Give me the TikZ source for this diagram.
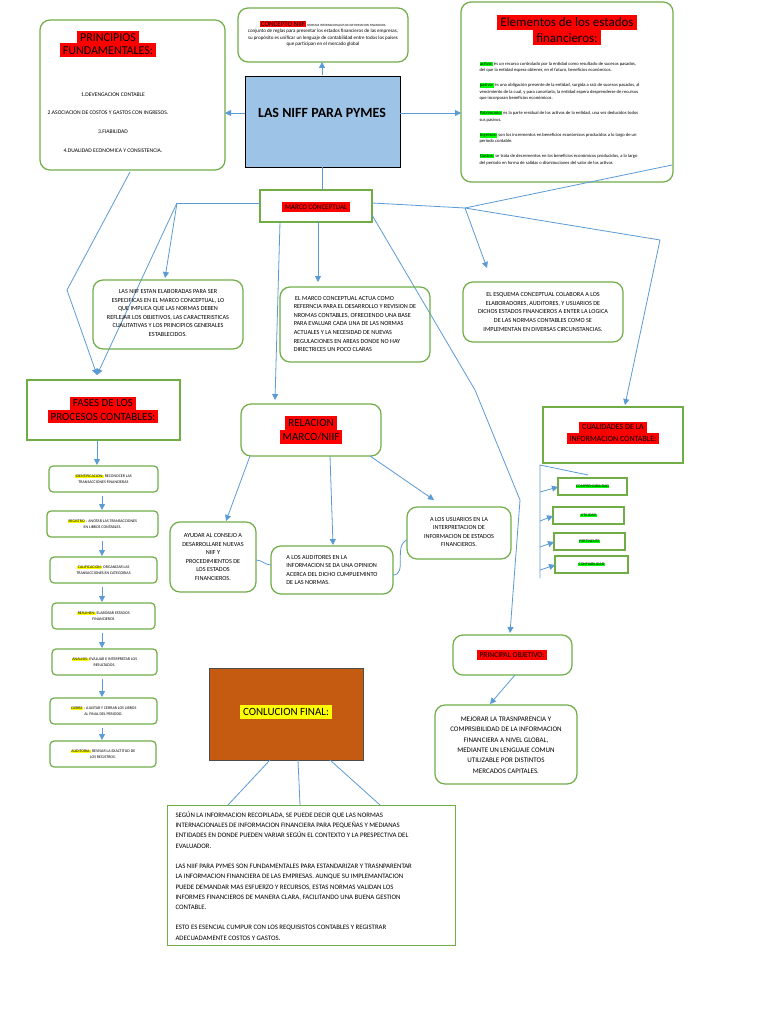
\documentclass[tikz,border=0pt]{standalone}
\usepackage{fontspec}
\setmainfont{Carlito}
\usetikzlibrary{arrows.meta}
\definecolor{gb}{HTML}{70AD47}
\definecolor{ab}{HTML}{5B9BD5}
\definecolor{lb}{HTML}{9DC3E6}
\definecolor{br}{HTML}{C55A11}
\definecolor{hy}{HTML}{FFFF00}
\definecolor{hg}{HTML}{00FF00}
\newcommand{\rd}[1]{\colorbox{red}{#1}}
\newcommand{\yl}[1]{{\setlength{\fboxsep}{0.5pt}\colorbox{hy}{#1}}}
\newcommand{\gr}[1]{{\setlength{\fboxsep}{0.5pt}\colorbox{hg}{#1}}}
\begin{document}
\begin{tikzpicture}[x=1pt,y=-1pt,
 rb/.style={draw=gb,line width=1.2pt,rounded corners=10pt},
 sb/.style={draw=gb,line width=1.2pt},
 arr/.style={draw=ab,line width=0.8pt,-{Triangle[length=6pt,width=6pt]}},
 ln/.style={draw=ab,line width=0.8pt},
 tx/.style={align=center,font=\fontsize{6.2}{8.6}\selectfont},
 fs/.style={align=center,font=\fontsize{4}{5.5}\selectfont}]
\useasboundingbox[fill=white] (0,0) rectangle (768,1024);
% top boxes
\draw[rb] (238,8) rectangle (408,62);
\node[align=center,font=\fontsize{5}{6.5}\selectfont] (con) at (323,34) {{\setlength{\fboxsep}{0.5pt}\colorbox{red}{\fontsize{7}{8}\selectfont CONCEPTO NIIF}}{\fontsize{3.2}{4}\selectfont: NORMAS INTERNACIONALES DE INFORMACION FINANCIERA}\\ conjunto de reglas para presentar los estados financieros de las empresas,\\ su propósito es unificar un lenguaje de contabilidad entre todos los países\\ que participan en el mercado global};
\coordinate (conb) at (322,62);
\draw[rb] (40,20) rectangle (225,170);
\node[align=center,font=\fontsize{12}{13}\selectfont] at (108,44) {\rd{PRINCIPIOS}\\[-2pt]\rd{FUNDAMENTALES:}};
\node[tx,font=\fontsize{5.6}{7}\selectfont] at (113,95) {1.DEVENGACION CONTABLE};
\node[tx,font=\fontsize{5.6}{7}\selectfont] at (108,113) {2.ASOCIACION DE COSTOS Y GASTOS CON INGRESOS.};
\node[tx,font=\fontsize{5.6}{7}\selectfont] at (113,132) {3.FIABILIDAD};
\node[tx,font=\fontsize{5.6}{7}\selectfont] at (113,151) {4.DUALIDAD ECONOMICA Y CONSISTENCIA.};
\coordinate (prr) at (225,113);
\draw[black,fill=lb] (245,76) rectangle (400,167);
\node[font=\bfseries\fontsize{14}{16}\selectfont] (main) at (322,113) {LAS NIFF PARA PYMES};
\draw[rb] (461,2) rectangle (673,182);
\node[align=center,font=\fontsize{13}{14}\selectfont] at (567,30) {\rd{Elementos de los estados}\\[-1pt]\rd{financieros:}};
\node[align=left,font=\fontsize{4.6}{6.3}\selectfont,anchor=north west] at (476,58) {\gr{activo:} es un recurso controlado por la entidad como resultado de sucesos pasados,\\ del que la entidad espera obtener, en el futuro, beneficios económicos.\\[9pt]
\gr{pasivo:} es una obligación presente de la entidad, surgida a raíz de sucesos pasados, al\\ vencimiento de la cual, y para cancelarla, la entidad espera desprenderse de recursos\\ que incorporan beneficios económicos.\\[9pt]
\gr{Patrimonio:} es la parte residual de los activos de la entidad, una vez deducidos todos\\ sus pasivos.\\[9pt]
\gr{Ingresos:} son los incrementos en beneficios económicos producidos a lo largo de un\\ periodo contable.\\[9pt]
\gr{Gastos:} se trata de decrementos en los beneficios económicos producidos, a lo largo\\ del periodo en forma de salidas o disminuciones del valor de los activos};
\draw[arr] (322,75) -- (conb);
\draw[arr] (245,113) -- (prr);
\draw[arr] (400,113) -- (461,113);
% marco
\draw[sb] (260,190) rectangle (372,222);
\node[font=\fontsize{7}{8}\selectfont] (mc) at (316,207) {\rd{MARCO CONCEPTUAL}};
\draw[ln] (322,167) -- (322,190);
\draw[ln] (260,203) -- (177,203);
\draw[ln] (372,203) -- (465,208);
\draw[ln] (130,172) -- (67,290);
\draw[arr] (177,203) -- (97,375);
\draw[arr] (67,290) -- (97,375);
\draw[arr] (177,203) -- (165,278);
\draw[arr] (318,222) -- (318,282);
\draw[arr] (465,208) -- (487,268);
\draw[arr] (465,208) -- (660,240) -- (625,405);
\draw[arr] (280,222) -- (275,400);
\draw[ln] (372,215) -- (475,390) -- (520,500);
\draw[arr] (520,500) -- (510,633);
\draw[ln] (465,208) -- (672,165);
% three boxes
\draw[rb] (93,280) rectangle (243,349);
\node[tx] at (168,313) {LAS NIIF ESTAN ELABORADAS PARA SER\\ESPECIFICAS EN EL MARCO CONCEPTUAL, LO\\QUE IMPLICA QUE LAS NORMAS DEBEN\\REFLEJAR LOS OBJETIVOS, LAS CARACTERISTICAS\\CUALITATIVAS Y LOS PRINCIPIOS GENERALES\\ESTABLECIDOS.};
\draw[rb] (280,287) rectangle (430,362);
\node[tx,align=left] at (355,324) {\ EL MARCO CONCEPTUAL ACTUA COMO\\REFERNCIA PARA EL DESARROLLO Y REVISION DE\\NROMAS CONTABLES, OFRECIENDO UNA BASE\\PARA EVALUAR CADA UNA DE LAS NORMAS\\ACTUALES Y LA NECESIDAD DE NUEVAS\\REGULACIONES EN AREAS DONDE NO HAY\\DIRECTRICES UN POCO CLARAS};
\draw[rb] (463,282) rectangle (623,342);
\node[tx] at (543,312) {EL ESQUEMA CONCEPTUAL COLABORA A LOS\\ELABORADORES, AUDITORES, Y USUARIOS DE\\DICHOS ESTADOS FINANCIEROS A ENTER LA LOGICA\\DE LAS NORMAS CONTABLES COMO SE\\IMPLEMENTAN EN DIVERSAS CIRCUNSTANCIAS.};
% fases
\draw[sb] (27,380) rectangle (180,440);
\node[align=center,font=\fontsize{11}{12.5}\selectfont] at (103,410) {\rd{FASES DE LOS}\\[-1pt]\rd{PROCESOS CONTABLES:}};
\foreach \i/\a/\b/\c/\t in {1/49/466/158/{\yl{IDENTIFICACION:} RECONOCER LAS\\TRANSACCIONES FINANCIERAS},2/47/511/158/{\yl{REGISTRO} : ANOTAR LAS TRANSACCIONES\\EN LIBROS CONTABLES.},3/50/557/157/{\yl{CALIFICACION:} ORGANIZAR LAS\\TRANSACCIONES EN CATEGORIAS},4/52/603/155/{\yl{RESUMEN:} ELABORAR ESTADOS\\FINANCIEROS},5/52/649/157/{\yl{ANALISIS:} EVALUAR E INTERPRETAR LOS\\RESULTADOS.},6/50/698/157/{\yl{CIERRE} : AJUSTAR Y CERRAR LOS LIBROS\\AL FINAL DEL PERIODO.},7/50/741/156/{\yl{AUDITORIA:} REVISAR LA EXACTITUD DE\\LOS REGISTROS.}}{
 \draw[rb,rounded corners=4pt] (\a,\b) rectangle (\c,\b+26);
 \node[fs] (f\i) at ({(\a+\c)/2},\b+13) {\t};
}
\draw[arr] (97,440) -- (97,465);
\foreach \b/\e in {492/510,537/556,583/602,629/648,675/697,724/740}{\draw[arr] (102,\b+4) -- (102,\e);}
% relacion
\draw[rb] (241,404) rectangle (381,456);
\node[align=center,font=\fontsize{11}{13}\selectfont] (rel) at (311,430) {\rd{RELACION}\\[-1pt]\rd{MARCO/NIIF}};
\draw[arr] (250,456) -- (226,521);
\draw[arr] (330,456) -- (333,545);
\draw[arr] (370,456) -- (434,500);
\draw[rb] (170,522) rectangle (256,592);
\node[tx] at (213,557) {AYUDAR AL CONSEJO A\\DESARROLLARE NUEVAS\\NIIF Y\\PROCEDIMIENTOS DE\\LOS ESTADOS\\FINANCIEROS.};
\draw[rb] (271,546) rectangle (393,594);
\node[tx,align=left] at (332,570) {A LOS AUDITORES EN LA\\INFORMACION SE DA UNA OPINION\\ACERCA DEL DICHO CUMPLIEMINTO\\DE LAS NORMAS.};
\draw[rb] (407,507) rectangle (511,559);
\node[tx] at (459,532) {A LOS USUARIOS EN LA\\INTERPRETACION DE\\INFORMACION DE ESTADOS\\FINANCIEROS.};
\draw[ln] (256,560) to[out=0,in=180] (271,565);
\draw[ln] (393,575) to[out=0,in=200] (407,540);
% cualidades
\draw[sb] (543,407) rectangle (683,463);
\node[align=center,font=\fontsize{8}{10}\selectfont] at (613,433) {\rd{CUALIDADES DE LA}\\[-1pt]\rd{INFORMACION CONTABLE:}};
\draw[ln] (588,475) -- (540,465) -- (540,578);
\foreach \a/\b/\c/\t in {558/478/627/COMPRENSIBILIDAD,553/507/624/UTILIDAD,554/533/625/PERTINENTE,555/556/628/CONFIABILIDAD}{
 \draw[sb] (\a,\b) rectangle (\c,\b+17);
 \node[fs] at ({(\a+\c)/2},\b+8.5) {\gr{\t}};
 \draw[arr] (540,\b+14) -- (\a,\b+9);
}
% principal
\draw[rb] (453,635) rectangle (572,675);
\node[font=\fontsize{7.5}{9}\selectfont] at (512,655) {\rd{PRINCIPAL OBJETIVO:}};
\draw[arr] (515,675) -- (490,704);
\draw[rb] (435,705) rectangle (577,784);
\node[align=center,font=\fontsize{7}{10.4}\selectfont] at (506,745) {MEJORAR LA TRASNPARENCIA Y\\COMPRSIBILIDAD DE LA INFORMACION\\FINANCIERA A NIVEL GLOBAL,\\MEDIANTE UN LENGUAJE COMUN\\UTILIZABLE POR DISTINTOS\\MERCADOS CAPITALES.};
% conclusion
\draw[black!70,fill=br,line width=0.8pt] (209,668) rectangle (363,760);
\node[font=\fontsize{11}{13}\selectfont] at (286,712) {\colorbox{hy}{CONLUCION FINAL:}};
\draw[ln] (270,760) -- (228,805);
\draw[ln] (298,760) -- (300,805);
\draw[ln] (330,760) -- (380,805);
\draw[sb,line width=0.8pt] (167,805) rectangle (455,945);
\node[align=left,font=\fontsize{6.8}{10.3}\selectfont,anchor=north west] at (172,808) {SEGÚN LA INFORMACION RECOPILADA, SE PUEDE DECIR QUE LAS NORMAS\\INTERNACIONALES DE INFORMACION FINANCIERA PARA PEQUEÑAS Y MEDIANAS\\ENTIDADES EN DONDE PUEDEN VARIAR SEGÚN EL CONTEXTO Y LA PRESPECTIVA DEL\\EVALUADOR.\\[10pt]
LAS NIIF PARA PYMES SON FUNDAMENTALES PARA ESTANDARIZAR Y TRASNPARENTAR\\LA INFORMACION FINANCIERA DE LAS EMPRESAS. AUNQUE SU IMPLEMANTACION\\PUEDE DEMANDAR MAS ESFUERZO Y RECURSOS, ESTAS NORMAS VALIDAN LOS\\INFORMES FINANCIEROS DE MANERA CLARA, FACILITANDO UNA BUENA GESTION\\CONTABLE.\\[10pt]
ESTO ES ESENCIAL CUMPUR CON LOS REQUISISTOS CONTABLES Y REGISTRAR\\ADECUADAMENTE COSTOS Y GASTOS.};
\end{tikzpicture}
\end{document}
